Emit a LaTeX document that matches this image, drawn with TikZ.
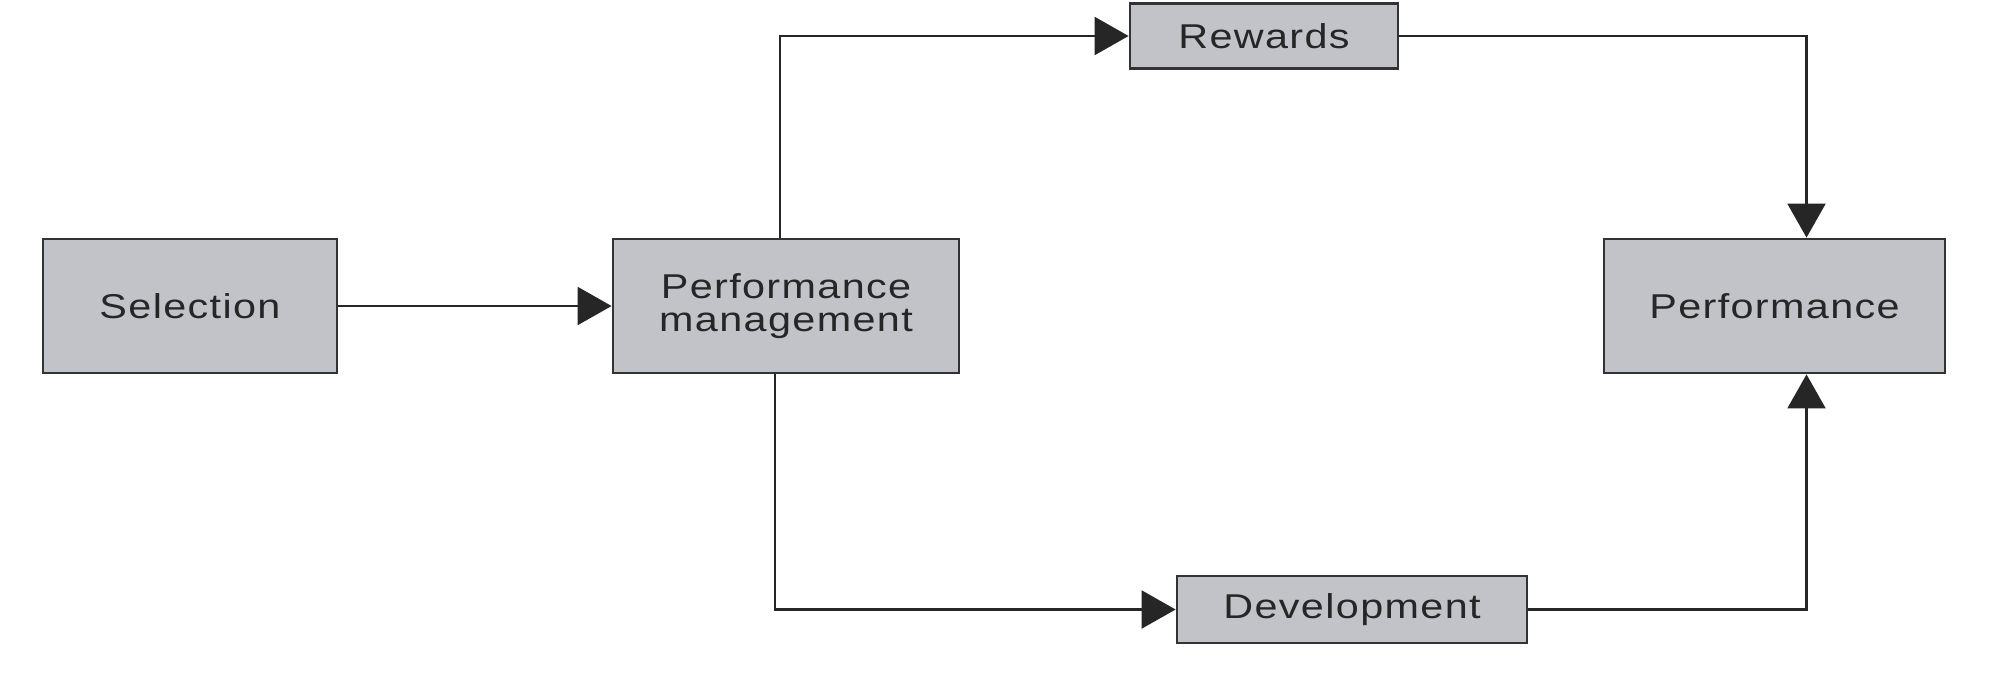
\documentclass[tikz,border=0pt]{standalone}
\usepackage{fontspec}
\setmainfont{Liberation Sans}[FakeStretch=1.2, LetterSpace=4]
\usetikzlibrary{arrows.meta}

\definecolor{boxgray}{RGB}{193,195,201}

\begin{document}
\begin{tikzpicture}[>={Triangle[length=3.4mm, width=3.8mm]},
    block/.style={draw=black!80, line width=0.8pt, fill=boxgray, text=black!85,
        font=\fontsize{9.8}{9.6}\selectfont, align=center, inner sep=0pt},
    link/.style={->, line width=0.6pt, draw=black!85}]
    \useasboundingbox (0,0) rectangle (19.95,6.86);

    % Define the boxes
    \node[block, minimum width=2.94cm, minimum height=1.34cm] (sel) at (1.90,3.80) {Selection};
    \node[block, minimum width=3.46cm, minimum height=1.34cm] (pm) at (7.86,3.80) {Performance\\management};
    \node[block, minimum width=2.68cm, minimum height=0.65cm] (rew) at (12.64,6.50) {Rewards};
    \node[block, minimum width=3.41cm, minimum height=1.34cm] (perf) at (17.745,3.80) {Performance};
    \node[block, minimum width=3.50cm, minimum height=0.67cm] (dev) at (13.52,0.765) {Development};

    % Draw the links
    \draw[link] (sel) -- (pm);
    \draw[link] ([xshift=-0.6mm]pm.north) |- (rew.west);
    \draw[link] ([xshift=-1.1mm]pm.south) |- (dev.west);
    \draw[link] (rew.east) -| ([xshift=3.2mm]perf.north);
    \draw[link] (dev.east) -| ([xshift=3.2mm]perf.south);
\end{tikzpicture}
\end{document}
